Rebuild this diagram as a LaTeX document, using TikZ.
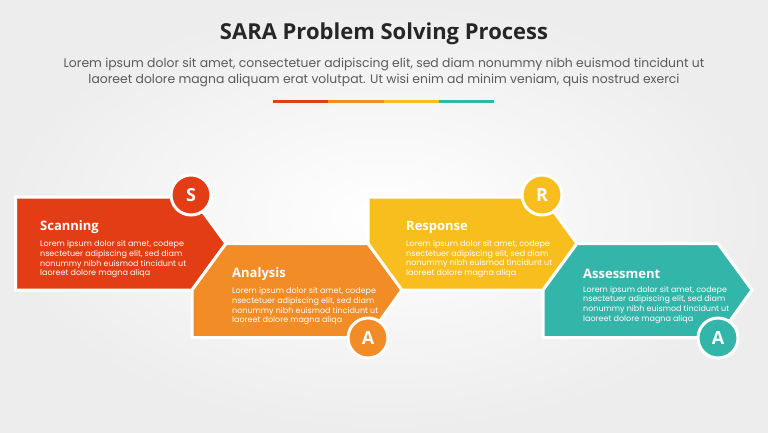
\documentclass[tikz,border=0pt]{standalone}
\usepackage{fontspec}
\setmainfont{Poppins}
\newfontfamily\headfont{Open Sans}
\usetikzlibrary{positioning}
\definecolor{scanred}{HTML}{E23D14}
\definecolor{anaorange}{HTML}{F28C26}
\definecolor{resyellow}{HTML}{F7BE1E}
\definecolor{assteal}{HTML}{33B5A9}
\definecolor{bggray}{HTML}{EDEDED}
\definecolor{headink}{HTML}{262626}
\definecolor{subink}{HTML}{5A5A5A}
\newcommand{\loremstep}{Lorem ipsum dolor sit amet, codepe\\nsectetuer adipiscing elit, sed diam\\nonummy nibh euismod tincidunt ut\\laoreet dolore magna aliqa}

\begin{document}
\begin{tikzpicture}[x=1pt,y=-1pt,
  steptitle/.style={anchor=west,inner sep=0pt,text=white,font=\headfont\bfseries\fontsize{13}{15}\selectfont},
  stepbody/.style={anchor=north west,inner sep=0pt,align=left,text=white,font=\fontsize{8}{9.6}\selectfont},
  stepshape/.style={draw=white,line width=3pt,line join=miter},
  letter/.style={circle,draw=white,line width=3pt,minimum size=40pt,inner sep=0pt,text=white,font=\headfont\bfseries\fontsize{18}{18}\selectfont}]
\shade[inner color=white,outer color=bggray] (0,0) rectangle (768,432);
\useasboundingbox (0,0) rectangle (768,432);
%
\node[inner sep=0pt,text=headink,font=\headfont\bfseries\fontsize{22}{25}\selectfont] (title) at (384,34) {SARA Problem Solving Process};
\node[below=13pt of title,inner sep=0pt,align=center,text=subink,font=\fontsize{12.4}{16}\selectfont] (sub)
  {Lorem ipsum dolor sit amet, consectetuer adipiscing elit, sed diam nonummy nibh euismod tincidunt ut\\
   laoreet dolore magna aliquam erat volutpat. Ut wisi enim ad minim veniam, quis nostrud exerci};
\foreach \c [count=\i from 0] in {scanred,anaorange,resyellow,assteal}
  \draw[\c,line width=3.5pt] (273+55.25*\i,101.5) -- (273+55.25*\i+55.25,101.5);
%
\filldraw[stepshape,fill=scanred]   (15.5,197) -- (192,197) -- (226,243.5) -- (192,290) -- (15.5,290) -- cycle;
\filldraw[stepshape,fill=anaorange] (226,243.5) -- (368,243.5) -- (402,290) -- (368,337.5) -- (192,337.5) -- (192,290) -- cycle;
\filldraw[stepshape,fill=resyellow] (368,197) -- (543,197) -- (577,243.5) -- (543,290) -- (402,290) -- (368,243.5) -- cycle;
\filldraw[stepshape,fill=assteal]   (577,243.5) -- (718,243.5) -- (752,290) -- (718,337.5) -- (543,337.5) -- (543,290) -- cycle;
%
\node[letter,fill=scanred]   (scanL) at (191,195) {S};
\node[letter,fill=anaorange] (anaL)  at (368,338) {A};
\node[letter,fill=resyellow] (resL)  at (542,195) {R};
\node[letter,fill=assteal]   (assL)  at (718,338) {A};
%
\node[steptitle] (scanT) at (40,227)  {Scanning};
\node[steptitle] (anaT)  at (232,274) {Analysis};
\node[steptitle] (resT)  at (406,227) {Response};
\node[steptitle] (assT)  at (583,274) {Assessment};
\node[stepbody,below=7pt of scanT.south west,anchor=north west] (scanB) {\loremstep};
\node[stepbody,below=7pt of anaT.south west,anchor=north west]  (anaB)  {\loremstep};
\node[stepbody,below=7pt of resT.south west,anchor=north west]  (resB)  {\loremstep};
\node[stepbody,below=7pt of assT.south west,anchor=north west]  (assB)  {\loremstep};
\end{tikzpicture}
\end{document}
